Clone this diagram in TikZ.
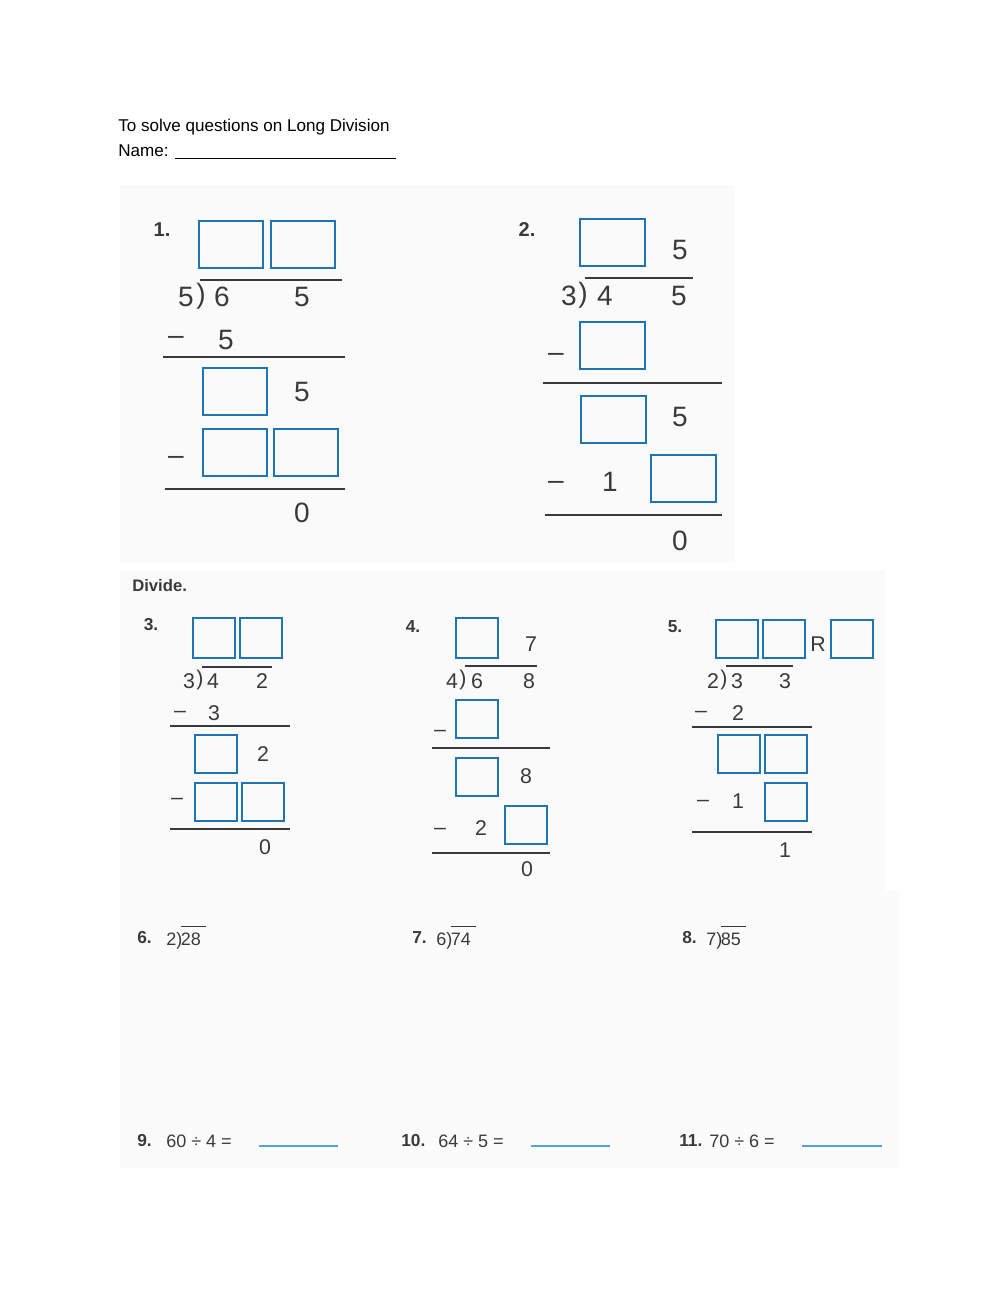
\documentclass[tikz,border=0pt]{standalone}
\usepackage{fontspec}
\setmainfont{Liberation Sans}
\definecolor{bx}{HTML}{1F74B4}
\definecolor{ink}{HTML}{3A3A3A}
\definecolor{bl}{HTML}{4FA6CF}
\tikzset{
 big/.style={font=\fontsize{21}{21}\selectfont,text=ink,inner sep=0pt},
 mid/.style={font=\fontsize{16}{16}\selectfont,text=ink,inner sep=0pt},
 sm/.style={font=\fontsize{13.5}{14}\selectfont,text=ink,inner sep=0pt,anchor=west},
 num/.style={font=\bfseries\fontsize{13}{14}\selectfont,text=ink,inner sep=0pt},
 ansbox/.style={draw=bx,line width=1.6pt},
 rule/.style={draw=ink,line width=1.1pt},
 ansline/.style={draw=bl,line width=1.3pt}
}
\begin{document}
\begin{tikzpicture}[x=0.75pt,y=-0.75pt]
\useasboundingbox (0,0) rectangle (1000,1291);
\fill[white] (0,0) rectangle (1000,1291);
\fill[gray!4] (120,185) rectangle (735,562);
\fill[gray!4] (120,570) rectangle (885,890);
\fill[gray!3] (120,890) rectangle (900,1168);
% header
\node[anchor=west,font=\fontsize{12.8}{13}\selectfont,inner sep=0pt] (t1) at (118,127) {To solve questions on Long Division};
\node[anchor=west,font=\fontsize{12.8}{13}\selectfont,inner sep=0pt] (t2) at (118,152) {Name: \underline{\hspace{166pt}}};
% ---------- problem 1
\node[num,font=\bfseries\fontsize{15}{15}\selectfont] (n1) at (162,230) {1.};
\draw[ansbox] (199,221) rectangle (263,268);
\draw[ansbox] (271,221) rectangle (335,268);
\draw[rule] (200,280) -- (342,280);
\node[big] (a1) at (186,297) {5};
\node[big] (a2) at (201,296) {)};
\node[big] (a3) at (222,297) {6};
\node[big] (a4) at (302,297) {5};
\node[big] (a5) at (176,340) {--};
\node[big] (a6) at (226,340) {5};
\draw[rule] (163,357) -- (345,357);
\draw[ansbox] (203,368) rectangle (267,415);
\node[big] (a7) at (302,392) {5};
\node[big] (a8) at (176,460) {--};
\draw[ansbox] (203,429) rectangle (267,476);
\draw[ansbox] (274,429) rectangle (338,476);
\draw[rule] (165,489) -- (345,489);
\node[big] (a9) at (302,513) {0};
% ---------- problem 2
\node[num,font=\bfseries\fontsize{15}{15}\selectfont] (n2) at (527,230) {2.};
\draw[ansbox] (580,219) rectangle (645,266);
\node[big] (b1) at (680,250) {5};
\draw[rule] (585,278) -- (693,278);
\node[big] (b2) at (569,296) {3};
\node[big] (b3) at (583,295) {)};
\node[big] (b4) at (605,296) {4};
\node[big] (b5) at (679,296) {5};
\node[big] (b6) at (556,357) {--};
\draw[ansbox] (580,322) rectangle (645,369);
\draw[rule] (543,383) -- (722,383);
\draw[ansbox] (581,396) rectangle (646,443);
\node[big] (b7) at (680,417) {5};
\node[big] (b8) at (556,485) {--};
\node[big] (b9) at (610,482) {1};
\draw[ansbox] (651,455) rectangle (716,502);
\draw[rule] (545,515) -- (722,515);
\node[big] (b10) at (680,541) {0};
% Divide
\node[anchor=west,font=\bfseries\fontsize{12.5}{13}\selectfont,text=ink,inner sep=0pt] (dv) at (132,586) {Divide.};
% ---------- problem 3
\node[num] (n3) at (151,625) {3.};
\draw[ansbox] (193,618) rectangle (235,658);
\draw[ansbox] (240,618) rectangle (282,658);
\draw[rule] (202,667) -- (272,667);
\node[mid] (c1) at (189,681) {3};
\node[mid] (c2) at (200,680) {)};
\node[mid] (c3) at (213,681) {4};
\node[mid] (c4) at (262,681) {2};
\node[mid] (c5) at (180,714) {--};
\node[mid] (c6) at (214,713) {3};
\draw[rule] (170,726) -- (290,726);
\draw[ansbox] (195,735) rectangle (237,773);
\node[mid] (c7) at (263,754) {2};
\node[mid] (c8) at (177,801) {--};
\draw[ansbox] (195,783) rectangle (237,821);
\draw[ansbox] (242,783) rectangle (284,821);
\draw[rule] (170,829) -- (290,829);
\node[mid] (c9) at (265,847) {0};
% ---------- problem 4
\node[num] (n4) at (413,627) {4.};
\draw[ansbox] (456,618) rectangle (498,658);
\node[mid] (d1) at (531,644) {7};
\draw[rule] (465,666) -- (537,666);
\node[mid] (d2) at (452,681) {4};
\node[mid] (d3) at (463,680) {)};
\node[mid] (d4) at (477,681) {6};
\node[mid] (d5) at (529,681) {8};
\node[mid] (d6) at (440,733) {--};
\draw[ansbox] (456,700) rectangle (498,738);
\draw[rule] (432,748) -- (550,748);
\draw[ansbox] (456,758) rectangle (498,796);
\node[mid] (d7) at (526,776) {8};
\node[mid] (d8) at (440,831) {--};
\node[mid] (d9) at (481,828) {2};
\draw[ansbox] (505,806) rectangle (547,844);
\draw[rule] (432,853) -- (550,853);
\node[mid] (d10) at (527,869) {0};
% ---------- problem 5
\node[num] (n5) at (675,627) {5.};
\draw[ansbox] (716,620) rectangle (758,658);
\draw[ansbox] (763,620) rectangle (805,658);
\node[mid] (e0) at (818,644) {R};
\draw[ansbox] (831,620) rectangle (873,658);
\draw[rule] (726,666) -- (793,666);
\node[mid] (e1) at (713,681) {2};
\node[mid] (e2) at (724,680) {)};
\node[mid] (e3) at (737,681) {3};
\node[mid] (e4) at (785,681) {3};
\node[mid] (e5) at (701,714) {--};
\node[mid] (e6) at (738,713) {2};
\draw[rule] (692,727) -- (812,727);
\draw[ansbox] (718,735) rectangle (760,773);
\draw[ansbox] (765,735) rectangle (807,773);
\node[mid] (e7) at (703,803) {--};
\node[mid] (e8) at (738,801) {1};
\draw[ansbox] (765,783) rectangle (807,821);
\draw[rule] (692,832) -- (812,832);
\node[mid] (e9) at (785,850) {1};
% ---------- problems 6-8
\node[num,anchor=west] (n6) at (137,938) {6.};
\node[sm] (f6) at (166,938) {2)\kern-1pt\rlap{\rule[1.05em]{1.4em}{0.6pt}}28};
\node[num,anchor=west] (n7) at (412,938) {7.};
\node[sm] (f7) at (436,938) {6)\kern-1pt\rlap{\rule[1.05em]{1.4em}{0.6pt}}74};
\node[num,anchor=west] (n8) at (682,938) {8.};
\node[sm] (f8) at (706,938) {7)\kern-1pt\rlap{\rule[1.05em]{1.4em}{0.6pt}}85};
% ---------- problems 9-11
\node[num,anchor=west] (n9) at (137,1141) {9.};
\node[sm] (g9) at (166,1141) {60 ÷ 4 =};
\coordinate (l9a) at (259,1146); \coordinate (l9b) at (338,1146);
\draw[ansline] (l9a) -- (l9b);
\node[num,anchor=west] (n10) at (401,1141) {10.};
\node[sm] (g10) at (438,1141) {64 ÷ 5 =};
\coordinate (l10a) at (531,1146); \coordinate (l10b) at (610,1146);
\draw[ansline] (l10a) -- (l10b);
\node[num,anchor=west] (n11) at (679,1141) {11.};
\node[sm] (g11) at (709,1141) {70 ÷ 6 =};
\coordinate (l11a) at (802,1146); \coordinate (l11b) at (882,1146);
\draw[ansline] (l11a) -- (l11b);
\end{tikzpicture}
\end{document}
